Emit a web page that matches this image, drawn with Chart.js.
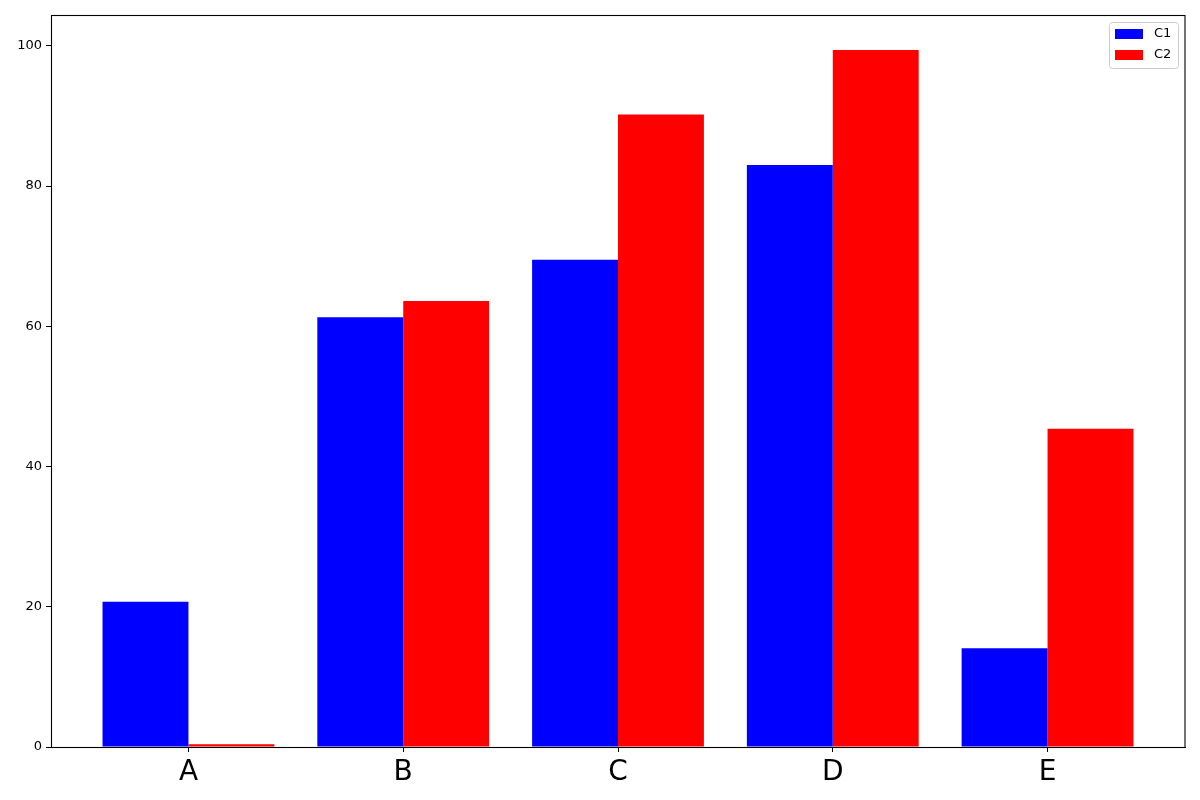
<!DOCTYPE html>
<html>
<head>
<meta charset="utf-8">
<script src="https://cdn.jsdelivr.net/npm/chart.js@4"></script>
<style>
html,body{margin:0;padding:0;background:#fff;}
#wrap{width:1200px;height:800px;}
</style>
</head>
<body>
<div id="wrap"><canvas id="c" width="1200" height="800"></canvas></div>
<script>
const categories = ['A', 'B', 'C', 'D', 'E'];
const seriesNames = ['C1', 'C2'];
const c1Values = [20.7, 61.3, 69.5, 83.0, 14.1];
const c2Values = [0.4, 63.6, 90.2, 99.4, 45.4];
const yTicks = [0, 20, 40, 60, 80, 100];
const colors = ['#0000ff', '#ff0000'];

const FONT = "'DejaVu Sans', sans-serif";

const frameAndLegend = {
  id: 'frameAndLegend',
  afterDraw(chart) {
    const ctx = chart.ctx;
    const a = chart.chartArea;
    ctx.save();
    ctx.strokeStyle = '#000';
    ctx.lineWidth = 1.1;
    ctx.strokeRect(Math.round(a.left) + 0.5, Math.round(a.top) + 0.5,
      Math.round(a.right - a.left) - 0.5, Math.round(a.bottom - a.top));
    // legend
    const bw = 69, bh = 46;
    const bx = a.right - 7 - bw, by = a.top + 7;
    ctx.beginPath();
    ctx.roundRect(bx + 0.5, by + 0.5, bw, bh, 3);
    ctx.fillStyle = 'rgba(255,255,255,0.8)';
    ctx.fill();
    ctx.strokeStyle = '#cccccc';
    ctx.lineWidth = 1;
    ctx.stroke();
    ctx.font = '13px ' + FONT;
    ctx.textBaseline = 'middle';
    ctx.textAlign = 'left';
    seriesNames.forEach((n, i) => {
      const cy = by + 12 + i * 21;
      ctx.fillStyle = colors[i];
      ctx.fillRect(bx + 6, cy - 5, 28, 10);
      ctx.fillStyle = '#000';
      ctx.fillText(n, bx + 45, cy);
    });
    ctx.restore();
  }
};

new Chart(document.getElementById('c'), {
  type: 'bar',
  data: {
    datasets: [
      { label: seriesNames[0], data: c1Values.map((v, i) => ({ x: i, y: v })), backgroundColor: colors[0], borderWidth: 0 },
      { label: seriesNames[1], data: c2Values.map((v, i) => ({ x: i, y: v })), backgroundColor: colors[1], borderWidth: 0 }
    ]
  },
  options: {
    responsive: false,
    animation: false,
    devicePixelRatio: 1,
    layout: { padding: { top: 15, right: 15, left: 0, bottom: 0 } },
    datasets: { bar: { categoryPercentage: 0.8, barPercentage: 1.0, grouped: true } },
    plugins: { legend: { display: false }, tooltip: { enabled: false } },
    scales: {
      x: {
        type: 'linear',
        offset: false,
        min: -0.64,
        max: 4.64,
        afterBuildTicks: s => { s.ticks = categories.map((c, i) => ({ value: i })); },
        afterFit: s => { s.height = 53; },
        ticks: {
          autoSkip: false,
          maxRotation: 0,
          padding: 4,
          color: '#000',
          font: { family: FONT, size: 28 },
          callback: v => categories[v]
        },
        grid: { display: true, drawOnChartArea: false, drawTicks: true, tickLength: 5, color: '#000', offset: false },
        border: { display: true, color: '#000', width: 1 }
      },
      y: {
        min: 0,
        max: 104.4,
        afterBuildTicks: s => { s.ticks = yTicks.map(v => ({ value: v })); },
        afterFit: s => { s.width = 51; },
        ticks: {
          padding: 4,
          color: '#000',
          font: { family: FONT, size: 13 }
        },
        grid: { display: true, drawOnChartArea: false, drawTicks: true, tickLength: 5, color: '#000' },
        border: { display: true, color: '#000', width: 1 }
      }
    }
  },
  plugins: [frameAndLegend]
});
</script>
</body>
</html>
